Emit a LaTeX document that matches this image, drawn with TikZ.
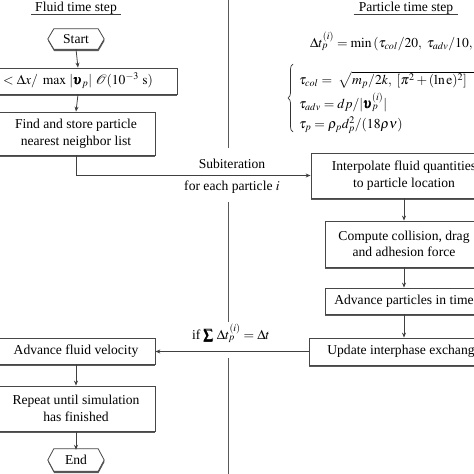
\documentclass[tikz,border=0pt]{standalone}
\usepackage{amsmath}
\usepackage{mathptmx}
\usepackage{fontspec}
\setmainfont{Liberation Serif}
\usetikzlibrary{arrows.meta,shadows,backgrounds,decorations.pathreplacing,calc}

\begin{document}
\begin{tikzpicture}[x=1pt,y=-1pt,
  every node/.style={font=\fontsize{13.6}{16.5}\selectfont, text=black},
  box/.style={draw=black!72, line width=0.8pt, fill=white, align=center, inner sep=2pt,
    drop shadow={shadow xshift=0.3pt, shadow yshift=-1.7pt, fill=black!65, opacity=1}},
  termtext/.style={minimum width=44pt, minimum height=20pt, inner sep=0pt},
  termline/.style={draw=black!72, line width=0.8pt, fill=white,
    drop shadow={shadow xshift=0.3pt, shadow yshift=-1.9pt, fill=black!65, opacity=1}},
  arr/.style={draw=black!75, line width=0.8pt, -{Stealth[length=5pt,width=4pt]}},
  divider/.style={draw=black!65, line width=0.7pt},
  uline/.style={draw=black!75, line width=0.8pt},
  formula/.style={anchor=base west, inner sep=0pt}
]
\useasboundingbox (0,0) rectangle (474,474);
\clip (0,0) rectangle (474,474);

% titles
\node[anchor=base, inner xsep=4pt] (fts) at (76,11) {Fluid time step};
\draw[uline] ([yshift=-3.8pt]fts.base west) -- ([yshift=-3.8pt]fts.base east);
\node[anchor=base, inner xsep=5pt] (pts) at (406,11) {Particle time step};
\draw[uline] ([yshift=-3.8pt]pts.base west) -- ([yshift=-3.8pt]pts.base east);

% divider
\coordinate (d0) at (228,0);
\coordinate (d1) at (228,148);
\coordinate (d2) at (228,202);
\coordinate (d3) at (228,322);
\coordinate (d4) at (228,358);
\coordinate (d5) at (228,474);
\draw[divider] (d0) -- (d1) (d2) -- (d3) (d4) -- (d5);

% left column
\node[termtext] (start) at (76,39) {Start};
\node[box, minimum width=198pt, minimum height=26pt] (b1) at (78,81)
  {$<\Delta x/\ \max\,|\pmb{\upsilon}_p|\ \mathcal{O}(10^{-3}\ \mathrm{s})$};
\node[box, minimum width=158pt, minimum height=43pt] (b2) at (76,133.5)
  {Find and store particle\\nearest neighbor list};
\node[box, minimum width=158pt, minimum height=26pt] (afv) at (76,351)
  {Advance fluid velocity};
\node[box, minimum width=158pt, minimum height=45pt] (rep) at (76,408.5)
  {Repeat until simulation\\has finished};
\node[termtext, minimum height=22pt] (end) at (76,460) {End};
\begin{pgfonlayer}{background}
\path[termline] (start.north west) -- (start.north east) -- ([xshift=6pt]start.east)
  -- (start.south east) -- (start.south west) -- ([xshift=-6pt]start.west) -- cycle;
\path[termline] (end.north west) -- (end.north east) -- ([xshift=6pt]end.east)
  -- (end.south east) -- (end.south west) -- ([xshift=-6pt]end.west) -- cycle;
\end{pgfonlayer}

% right column
\node[box, minimum width=186pt, minimum height=45pt] (interp) at (404,175.5)
  {Interpolate fluid quantities\\to particle location};
\node[box, minimum width=158pt, minimum height=46pt] (comp) at (404,244)
  {Compute collision, drag\\and adhesion force};
\node[box, minimum width=158pt, minimum height=26pt] (advp) at (404,301)
  {Advance particles in time};
\node[box, minimum width=190pt, minimum height=27pt] (upd) at (404,351.5)
  {Update interphase exchange};

% formulas
\node[formula] (f1) at (310,47)
  {$\Delta t_p^{(i)} = \min\,(\tau_{col}/20,\ \tau_{adv}/10,$};
\node[formula] (f2) at (299,84)
  {$\tau_{col}=\ \sqrt{m_p/2k,\ [\pi^2+(\ln \mathrm{e})^2]\hphantom{xxxxxx}}$};
\node[formula] (f3) at (299,108)
  {$\tau_{adv}= dp/|\pmb{\upsilon}_p^{(i)}|$};
\node[formula] (f4) at (299,128.5)
  {$\tau_p = \rho_p d_p^2/(18\rho\nu)$};
\coordinate (brb) at (293,132);
\coordinate (brt) at (293,64);
\draw[line width=0.7pt, draw=black!80, decorate, decoration={brace, amplitude=5pt}] (brb) -- (brt);

% labels
\node (sub) at (232,164) {Subiteration};
\node (fep) at (232,187) {for each particle $i$};
\node[anchor=base] (ifl) at (231,339) {if $\pmb{\sum}\ \Delta t_p^{(i)} = \Delta t$};

% connectors
\draw[arr] (start.south) -- (b1.north);
\draw[arr] (b1.south) -- (b2.north);
\draw[arr] (b2.south) |- (interp.west);
\draw[arr] (interp.south) -- (comp.north);
\draw[arr] (comp.south) -- (advp.north);
\draw[arr] (advp.south) -- (upd.north);
\draw[arr] (upd.west) -- (upd.west -| afv.east);
\draw[arr] (afv.south) -- (rep.north);
\draw[arr] (rep.south) -- ([yshift=-1pt]end.north);
\end{tikzpicture}
\end{document}
